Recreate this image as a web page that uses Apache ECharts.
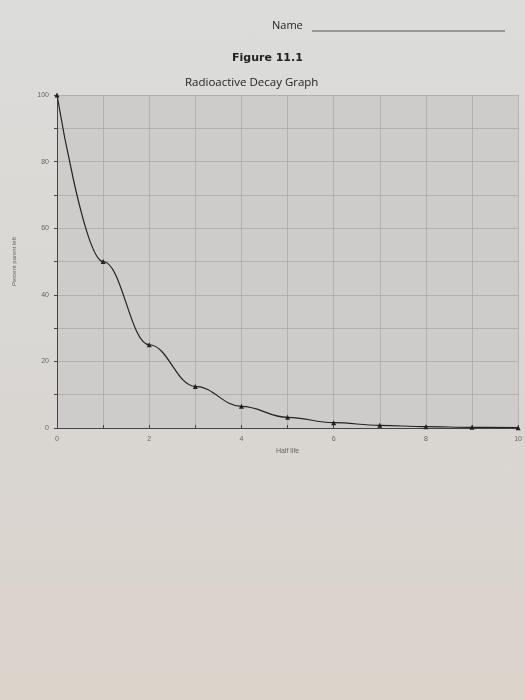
<!DOCTYPE html>
<html><head><meta charset="utf-8">
<script src="https://cdn.jsdelivr.net/npm/echarts@6/dist/echarts.min.js"></script>
<style>html,body{margin:0;padding:0;background:linear-gradient(180deg,#dcdcda 0%,#d9d6d2 60%,#dcd3cb 100%);}#c{width:525px;height:700px;}</style>
</head><body><div id="c"></div>
<script>
const halfLives = [0,1,2,3,4,5,6,7,8,9,10];
const percentLeft = [100,50,25,12.5,6.5,3.2,1.6,0.8,0.4,0.2,0.1];
const xTicks = [0,2,4,6,8,10];
const yTicks = [0,20,40,60,80,100];
const chart = echarts.init(document.getElementById('c'));
chart.setOption({
  animation:false,
  graphic:[
    {type:'text',left:272,top:20,style:{text:'Name',fontFamily:'Open Sans',fontSize:11,fill:'#222'}},
    {type:'line',shape:{x1:312,y1:31,x2:505,y2:31},style:{stroke:'#555',lineWidth:1}},
    {type:'text',left:232,top:53,style:{text:'Figure 11.1',fontFamily:'DejaVu Sans',fontWeight:'bold',fontSize:11,fill:'#222'}},
    {type:'text',left:185,top:77,style:{text:'Radioactive Decay Graph',fontFamily:'Open Sans',fontSize:11.5,fill:'#222'}}
  ],
  grid:{left:57,right:5,top:95,bottom:272,backgroundColor:'#cdcccb',show:true,borderWidth:0},
  xAxis:{type:'value',min:0,max:10,interval:1,name:'Half life',nameLocation:'middle',nameGap:20,
    nameTextStyle:{fontSize:7,color:'#666',fontFamily:'Liberation Sans'},
    axisLine:{lineStyle:{color:'#444'}},axisTick:{show:true,inside:true,length:3,lineStyle:{color:'#444'}},
    axisLabel:{fontSize:7,color:'#666',formatter:v=>xTicks.includes(v)?v:''},
    splitLine:{lineStyle:{color:'#a9a9a9',width:0.8}}},
  yAxis:{type:'value',min:0,max:100,interval:10,name:'Percent parent left',nameLocation:'middle',nameGap:40,
    nameTextStyle:{fontSize:6,color:'#666',fontFamily:'Liberation Sans'},
    axisLine:{show:true,lineStyle:{color:'#444'}},axisTick:{show:true,length:3,lineStyle:{color:'#444'}},
    axisLabel:{fontSize:7,color:'#666',formatter:v=>yTicks.includes(v)?v:''},
    splitLine:{lineStyle:{color:'#a9a9a9',width:0.8}}},
  series:[{type:'line',smooth:0.4,smoothMonotone:'x',data:halfLives.map((x,i)=>[x,percentLeft[i]]),
    symbol:'triangle',symbolSize:5,itemStyle:{color:'#222'},lineStyle:{color:'#222',width:1.2}}]
});
</script></body></html>
